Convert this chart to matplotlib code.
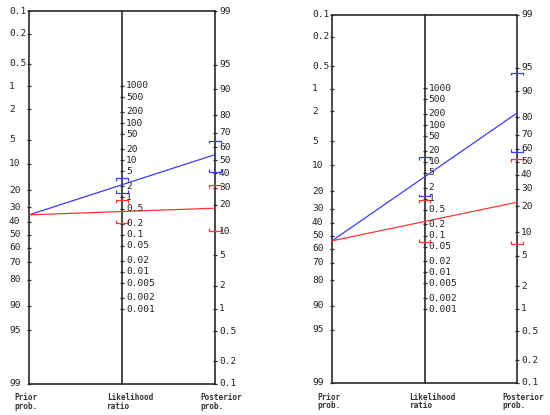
import numpy as np
import matplotlib.pyplot as plt

# tick values of the three scales (percent / ratio)
prior_ticks = [0.1, 0.2, 0.5, 1, 2, 5, 10, 20, 30, 40, 50, 60, 70, 80, 90, 95, 99]
lr_ticks = [1000, 500, 200, 100, 50, 20, 10, 5, 2, 1, 0.5, 0.2, 0.1,
            0.05, 0.02, 0.01, 0.005, 0.002, 0.001]
post_ticks = [99, 95, 90, 80, 70, 60, 50, 40, 30, 20, 10, 5, 2, 1, 0.5, 0.2, 0.1]

# values for the two nomograms
priors = [35, 54]
lr_pos = [2.2, 3.9]
lr_pos_ci = [(1.3, 3.4), (1.15, 13.8)]
lr_neg = [0.42, 0.24]
lr_neg_ci = [(0.21, 0.86), (0.066, 0.92)]

# axes positions in the figure (fractions)
panel_pos = [[29 / 550, 1 - 383.5 / 415, 186 / 550, 372 / 415],
             [332 / 550, 1 - 382.7 / 415, 185 / 550, 368 / 415]]

AXC = '#2a2a2a'
BLUE = '#3b3bff'
RED = '#ff3535'
FONT = 'DejaVu Sans Mono'


def logit(pct):
    p = np.asarray(pct, dtype=float) / 100.0
    return np.log(p / (1 - p))


LO = logit(0.1)
HI = logit(99)


def y_left(p):
    return logit(p)


def y_right_logit(lq):
    return LO + HI - lq


def y_mid(lr):
    return (LO + HI - np.log(lr)) / 2


def bracket(ax, x, y, up, color):
    # small horizontal bracket, tips point towards the estimate
    d = 0.03
    t = -0.09 if up else 0.09
    ax.plot([x - d, x - d, x + d, x + d], [y + t, y, y, y + t],
            color=color, lw=0.9, clip_on=False, solid_capstyle='butt')


fig = plt.figure(figsize=(5.5, 4.15), dpi=100)

for i in range(2):
    ax = fig.add_axes(panel_pos[i])
    ax.set_xlim(0, 1)
    ax.set_ylim(HI, LO)
    ax.axis('off')

    # frame and the three scales
    for x in [0, 0.5, 1]:
        ax.plot([x, x], [LO, HI], color=AXC, lw=1.2, clip_on=False)
    ax.plot([0, 1], [LO, LO], color=AXC, lw=1.2, clip_on=False)
    ax.plot([0, 1], [HI, HI], color=AXC, lw=1.2, clip_on=False)

    for v in prior_ticks:
        y = y_left(v)
        ax.plot([0], [y], marker='_', ms=3.5, mew=0.9, color=AXC, clip_on=False)
        ax.annotate(f'{v:g}', (0, y), xytext=(-20, 0), textcoords='offset pixels',
                    ha='left', va='center', fontsize=6.8, family=FONT, color='#222222')
    for v in lr_ticks:
        y = y_mid(v)
        ax.plot([0.5], [y], marker='_', ms=3.5, mew=0.9, color=AXC, clip_on=False)
        ax.annotate(f'{v:g}', (0.5, y), xytext=(4, 0), textcoords='offset pixels',
                    ha='left', va='center', fontsize=6.8, family=FONT, color='#222222')
    for v in post_ticks:
        y = y_right_logit(logit(v))
        ax.plot([1], [y], marker='_', ms=3.5, mew=0.9, color=AXC, clip_on=False)
        ax.annotate(f'{v:g}', (1, y), xytext=(4, 0), textcoords='offset pixels',
                    ha='left', va='center', fontsize=6.8, family=FONT, color='#222222')

    for x, lab in [(0, 'Prior\nprob.'), (0.5, 'Likelihood\nratio'), (1, 'Posterior\nprob.')]:
        ax.annotate(lab, (x, HI), xytext=(-15, -10), textcoords='offset pixels',
                    ha='left', va='top', fontsize=5.6, family=FONT, fontweight='bold',
                    color='#333333', linespacing=0.9)

    lp = y_left(priors[i])
    for lr, ci, col in [(lr_pos[i], lr_pos_ci[i], BLUE), (lr_neg[i], lr_neg_ci[i], RED)]:
        lq = lp + np.log(lr)
        ax.plot([0, 1], [lp, y_right_logit(lq)], color=col, lw=0.9, clip_on=False)
        lo_ci, hi_ci = ci
        # brackets on the likelihood ratio scale
        bracket(ax, 0.5, y_mid(hi_ci), False, col)
        bracket(ax, 0.5, y_mid(lo_ci), True, col)
        # brackets on the posterior scale
        bracket(ax, 1, y_right_logit(lp + np.log(hi_ci)), False, col)
        bracket(ax, 1, y_right_logit(lp + np.log(lo_ci)), True, col)

plt.savefig('out.png', dpi=100)
